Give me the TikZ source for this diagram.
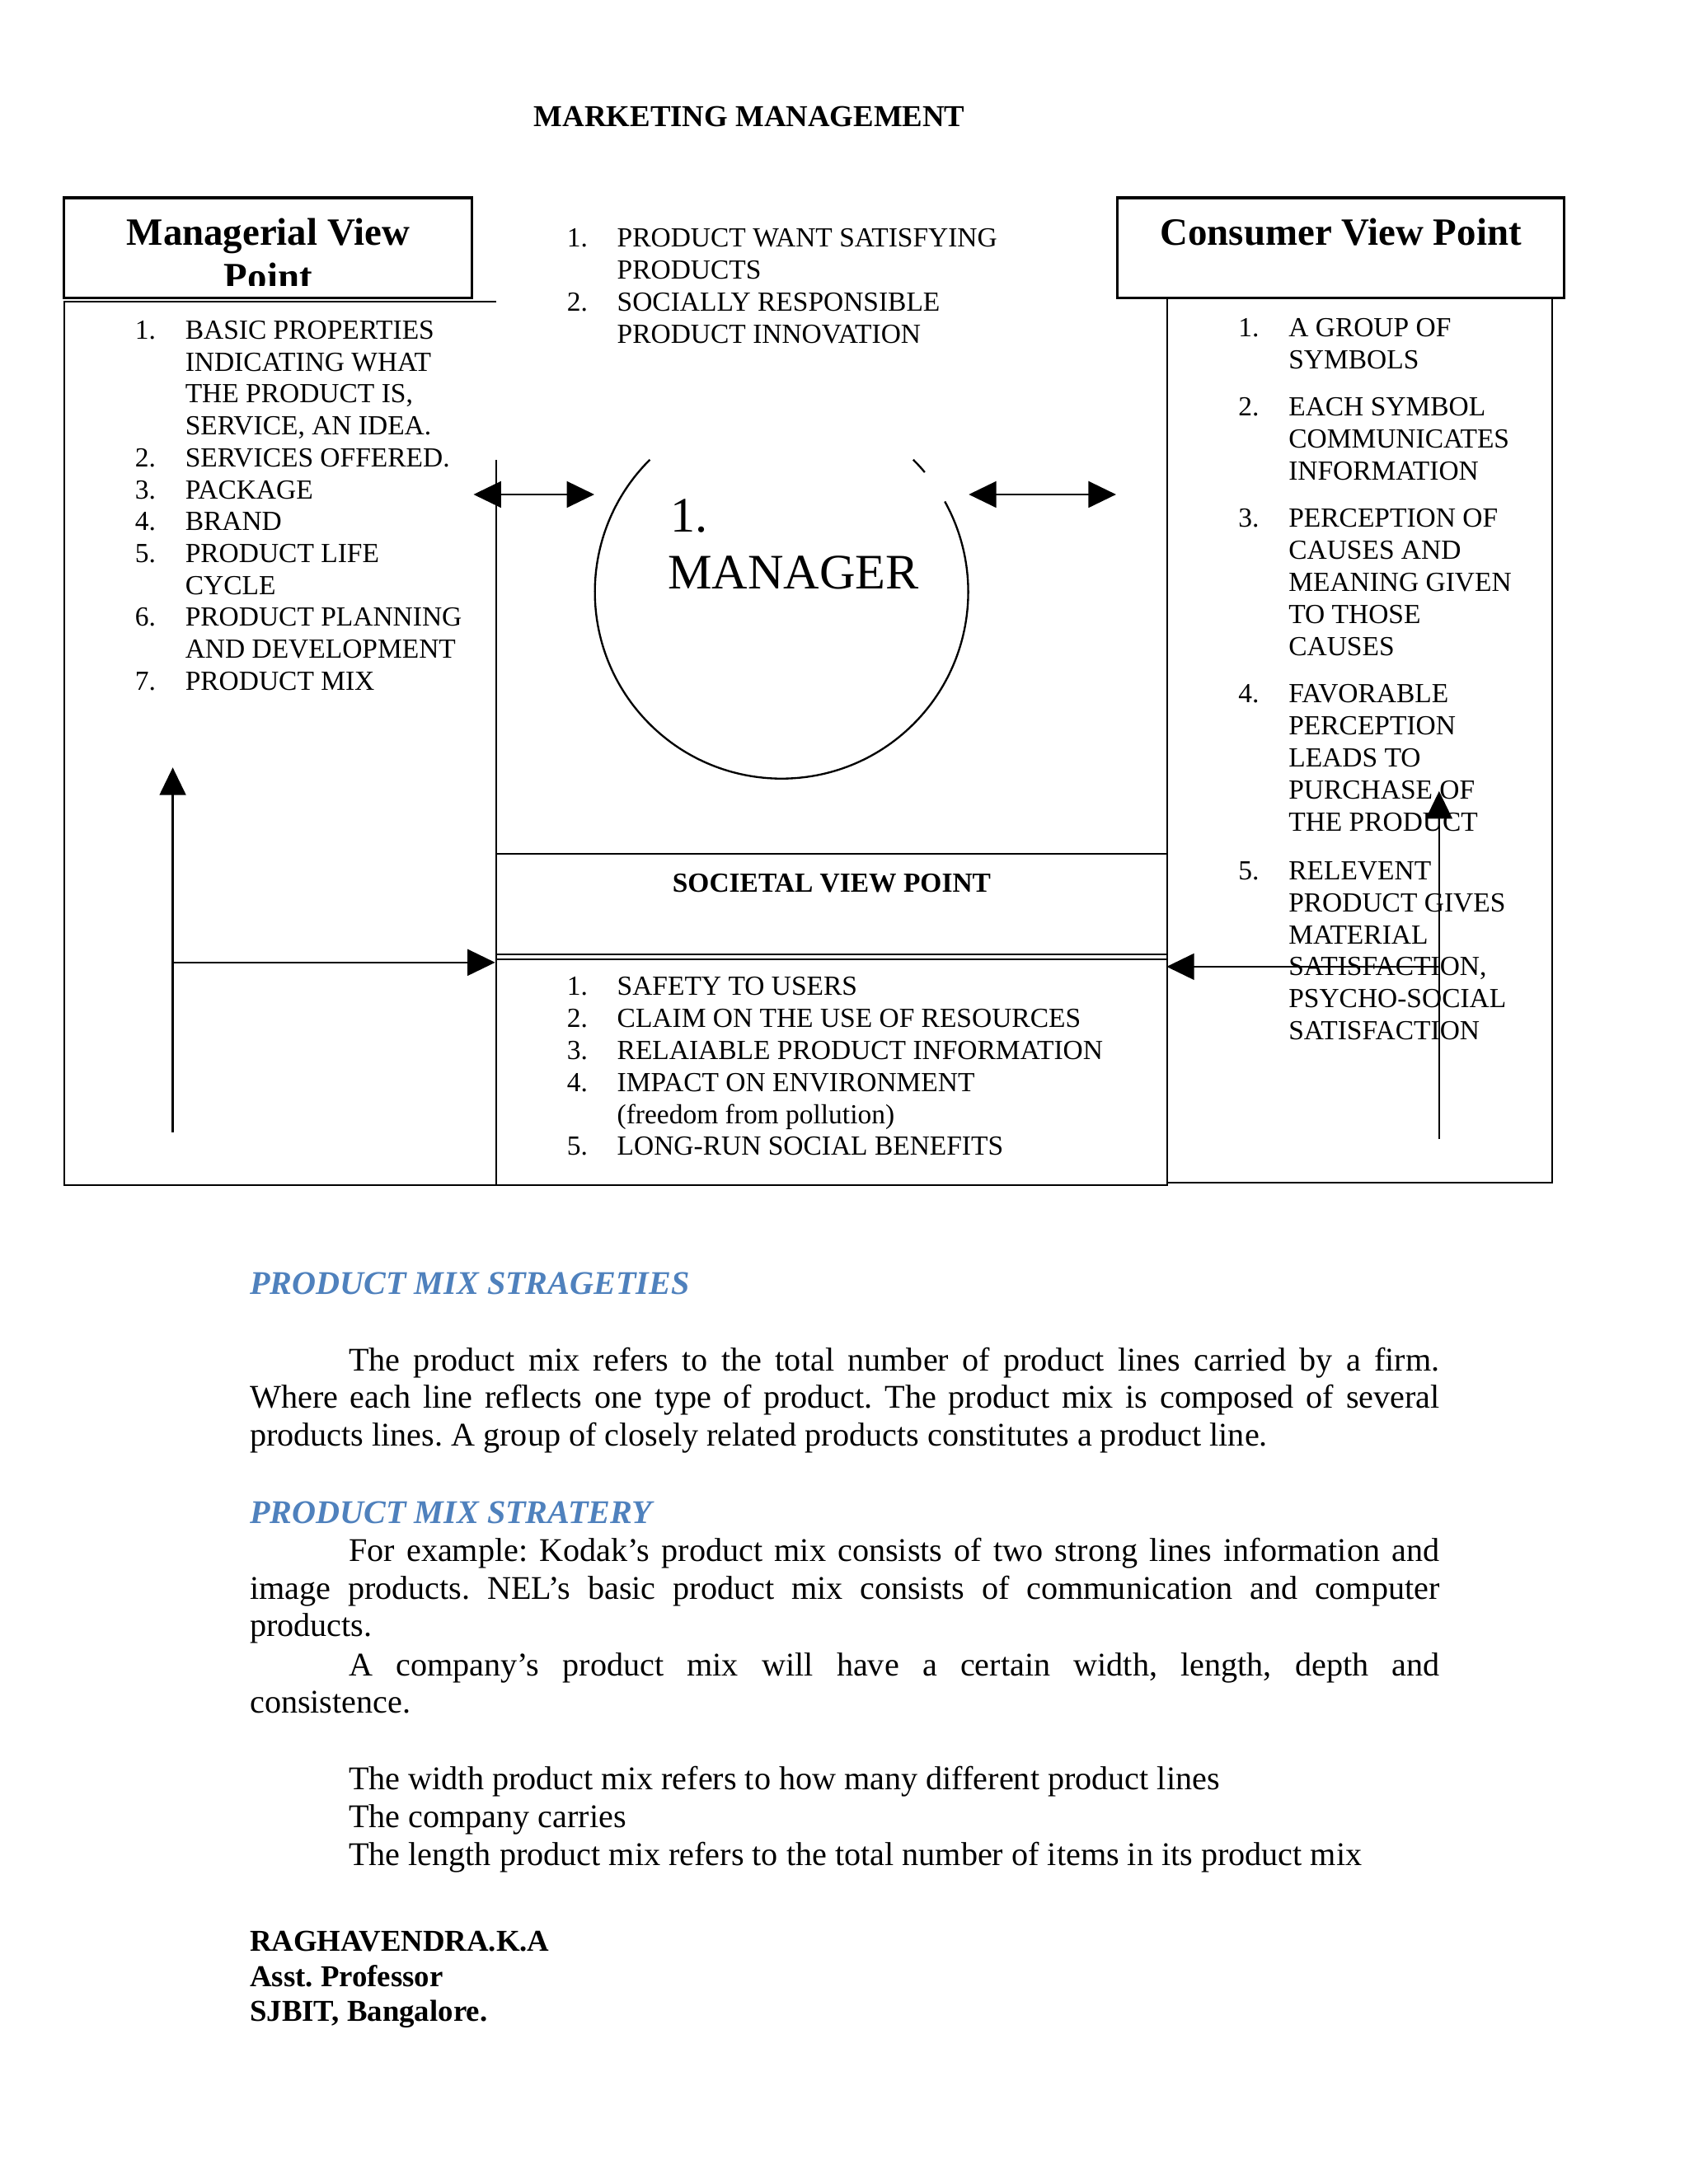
\documentclass[tikz,border=0pt]{standalone}
\usepackage{fontspec}
\setmainfont{Liberation Serif}
\usetikzlibrary{arrows.meta}
\definecolor{hblue}{RGB}{79,129,189}
\frenchspacing
\begin{document}
\frenchspacing
\begin{tikzpicture}[x=0.505pt,y=-0.505pt,
  lt/.style={font=\fontsize{10}{12}\selectfont, anchor=base west, inner sep=0pt, outer sep=0pt},
  bt/.style={font=\fontsize{12}{14}\selectfont, anchor=base west, inner sep=0pt},
  bb/.style={font=\fontsize{11}{13}\selectfont\bfseries, anchor=base west, inner sep=0pt},
  hd/.style={font=\fontsize{12}{14}\selectfont\bfseries\itshape, text=hblue, anchor=base west, inner sep=0pt},
  hdr/.style={draw, line width=0.9pt, inner sep=0pt, minimum height=36.36pt},
  frame/.style={draw, line width=0.6pt, inner sep=0pt},
  arr/.style={line width=0.8pt, -{Triangle[width=9.5pt,length=10pt]}},
  dbl/.style={line width=0.8pt, {Triangle[width=9.5pt,length=10pt]}-{Triangle[width=9.5pt,length=10pt]}},
  ring/.style={line width=0.7pt},
]
\fill[white] (0,0) rectangle (1212,1568);
\useasboundingbox (0,0) rectangle (1212,1568);

% title
\node[font=\fontsize{11}{13}\selectfont\bfseries, anchor=base, inner sep=0pt] (title) at (538,91) {MARKETING MANAGEMENT};

% header boxes
\node[hdr, minimum width=147.97pt] (mv) at (192.5,178) {};
\node[hdr, minimum width=162.1pt] (cv) at (962.5,178) {};
\begin{scope}
  \clip (46,142) rectangle (339,205);
  \node[font=\fontsize{14}{16}\selectfont\bfseries, anchor=base, inner sep=0pt] (mvt1) at (192.5,176) {Managerial View};
  \node[font=\fontsize{14}{16}\selectfont\bfseries, anchor=base, inner sep=0pt] (mvt2) at (192.5,208) {Point};
\end{scope}
\node[font=\fontsize{14}{16}\selectfont\bfseries, anchor=base, inner sep=0pt] (cvt) at (962.5,176) {Consumer View Point};

% big frames
\draw[line width=0.6pt] (356,216.5) -- (46,216.5) -- (46,851) -- (356,851) -- (356,330);
\node[frame, minimum width=139.38pt, minimum height=320.68pt] (rbox) at (976,531.5) {};
\node[frame, minimum width=243.4pt, minimum height=36.36pt] (soc) at (597,649) {};
\node[frame, minimum width=243.4pt, minimum height=82.06pt] (low) at (597,769.75) {};
\node[font=\fontsize{10}{12}\selectfont\bfseries, anchor=base, inner sep=0pt] (soct) at (597,640.5) {SOCIETAL VIEW POINT};

% manager circle
\node[circle, minimum size=135.34pt, inner sep=0pt] (mgr) at (561,425) {};
\draw[ring] ([shift={(134.85:67.67pt)}]mgr.center) arc[start angle=134.85, end angle=389, radius=67.67pt];
\draw[ring] ([shift={(399.9:67.67pt)}]mgr.center) arc[start angle=399.9, end angle=405.15, radius=67.67pt];
\node[font=\fontsize{18}{21}\selectfont, anchor=base west, inner sep=0pt] (m1) at (481,382) {1.};
\node[font=\fontsize{18}{21}\selectfont, anchor=base west, inner sep=0pt] (m2) at (479,423) {MANAGER};

% left list
\node[lt] (ln1) at (97,243.5) {1.};
\node[lt] (l0) at (133,243.5) {BASIC PROPERTIES};
\node[lt] (l1) at (133,266.4) {INDICATING WHAT};
\node[lt] (l2) at (133,289.3) {THE PRODUCT IS,};
\node[lt] (l3) at (133,312.2) {SERVICE, AN IDEA.};
\node[lt] (ln2) at (97,335.1) {2.};
\node[lt] (l4) at (133,335.1) {SERVICES OFFERED.};
\node[lt] (ln3) at (97,358) {3.};
\node[lt] (l5) at (133,358) {PACKAGE};
\node[lt] (ln4) at (97,380.9) {4.};
\node[lt] (l6) at (133,380.9) {BRAND};
\node[lt] (ln5) at (97,403.8) {5.};
\node[lt] (l7) at (133,403.8) {PRODUCT LIFE};
\node[lt] (l8) at (133,426.7) {CYCLE};
\node[lt] (ln6) at (97,449.6) {6.};
\node[lt] (l9) at (133,449.6) {PRODUCT PLANNING};
\node[lt] (l10) at (133,472.5) {AND DEVELOPMENT};
\node[lt] (ln7) at (97,495.4) {7.};
\node[lt] (l11) at (133,495.4) {PRODUCT MIX};

% middle top list
\node[lt] (mn1) at (407,177.5) {1.};
\node[lt] (m0) at (443,177.5) {PRODUCT WANT SATISFYING};
\node[lt] (m1l) at (443,200.5) {PRODUCTS};
\node[lt] (mn2) at (407,223.5) {2.};
\node[lt] (m2l) at (443,223.5) {SOCIALLY RESPONSIBLE};
\node[lt] (m3l) at (443,246.5) {PRODUCT INNOVATION};

% right list
\node[lt] (rn1) at (889,241.5) {1.};
\node[lt] (r0) at (925,241.5) {A GROUP OF};
\node[lt] (r1) at (925,264.5) {SYMBOLS};
\node[lt] (rn2) at (889,298.5) {2.};
\node[lt] (r2) at (925,298.5) {EACH SYMBOL};
\node[lt] (r3) at (925,321.5) {COMMUNICATES};
\node[lt] (r4) at (925,344.5) {INFORMATION};
\node[lt] (rn3) at (889,378.5) {3.};
\node[lt] (r5) at (925,378.5) {PERCEPTION OF};
\node[lt] (r6) at (925,401.5) {CAUSES AND};
\node[lt] (r7) at (925,424.5) {MEANING GIVEN};
\node[lt] (r8) at (925,447.5) {TO THOSE};
\node[lt] (r9) at (925,470.5) {CAUSES};
\node[lt] (rn4) at (889,504.5) {4.};
\node[lt] (r10) at (925,504.5) {FAVORABLE};
\node[lt] (r11) at (925,527.5) {PERCEPTION};
\node[lt] (r12) at (925,550.5) {LEADS TO};
\node[lt] (r13) at (925,573.5) {PURCHASE OF};
\node[lt] (r14) at (925,596.5) {THE PRODUCT};
\node[lt] (rn5) at (889,631.5) {5.};
\node[lt] (r15) at (925,631.5) {RELEVENT};
\node[lt] (r16) at (925,654.5) {PRODUCT GIVES};
\node[lt] (r17) at (925,677.5) {MATERIAL};
\node[lt] (r18) at (925,700.5) {SATISFACTION,};
\node[lt] (r19) at (925,723.5) {PSYCHO-SOCIAL};
\node[lt] (r20) at (925,746.5) {SATISFACTION};

% societal list
\node[lt] (sn1) at (407,714.5) {1.};
\node[lt] (s0) at (443,714.5) {SAFETY TO USERS};
\node[lt] (sn2) at (407,737.5) {2.};
\node[lt] (s1) at (443,737.5) {CLAIM ON THE USE OF RESOURCES};
\node[lt] (sn3) at (407,760.5) {3.};
\node[lt] (s2) at (443,760.5) {RELAIABLE PRODUCT INFORMATION};
\node[lt] (sn4) at (407,783.5) {4.};
\node[lt] (s3) at (443,783.5) {IMPACT ON ENVIRONMENT};
\node[lt] (s4) at (443,806.5) {(freedom from pollution)};
\node[lt] (sn5) at (407,829.5) {5.};
\node[lt] (s5) at (443,829.5) {LONG-RUN SOCIAL BENEFITS};

% arrows
\coordinate (ay) at (0,355);
\draw[dbl] (mv.east |- ay) -- (mgr.west |- ay);
\draw[dbl] (mgr.east |- ay) -- (cv.west |- ay);
\coordinate (lb) at (124,813);
\coordinate (lt) at (124,551);
\coordinate (lm) at (124,691);
\draw[arr] (lb) -- (lt);
\draw[arr] (lm) -- (lm -| low.west);
\coordinate (rb) at (1033,818);
\coordinate (rt) at (1033,568);
\coordinate (rm) at (1033,694);
\draw[arr] (rb) -- (rt);
\draw[arr] (rm) -- (rm -| rbox.west);

% lower text
\node[hd] (h1) at (179,929) {PRODUCT MIX STRAGETIES};
\node[bt] (p1a) at (250,984) {\makebox[395.4pt][s]{The product mix refers to the total number of product lines carried by a firm.}};
\node[bt] (p1b) at (179,1011) {\makebox[431.3pt][s]{Where each line reflects one type of product. The product mix is composed of several}};
\node[bt] (p1c) at (179,1038) {products lines. A group of closely related products constitutes a product line.};
\node[hd] (h2) at (179,1094) {PRODUCT MIX STRATERY};
\node[bt] (p2a) at (250,1121) {\makebox[395.4pt][s]{For example: Kodak’s product mix consists of two strong lines information and}};
\node[bt] (p2b) at (179,1148) {\makebox[431.3pt][s]{image products. NEL’s basic product mix consists of communication and computer}};
\node[bt] (p2c) at (179,1175) {products.};
\node[bt] (p3a) at (250,1203) {\makebox[395.4pt][s]{A company’s product mix will have a certain width, length, depth and}};
\node[bt] (p3b) at (179,1230) {consistence.};
\node[bt] (p4a) at (250,1285) {The width product mix refers to how many different product lines};
\node[bt] (p4b) at (250,1312) {The company carries};
\node[bt] (p4c) at (250,1339) {The length product mix refers to the total number of items in its product mix};
\node[bb] (g1) at (179,1401) {RAGHAVENDRA.K.A};
\node[bb] (g2) at (179,1426) {Asst. Professor};
\node[bb] (g3) at (179,1451) {SJBIT, Bangalore.};
\end{tikzpicture}
\end{document}
